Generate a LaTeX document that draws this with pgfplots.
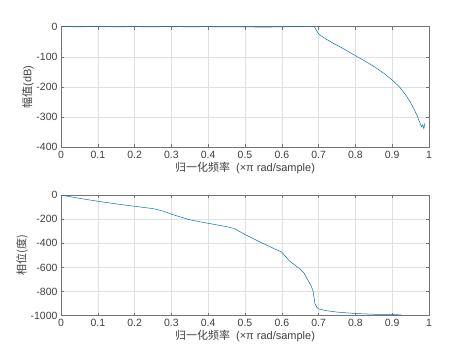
\documentclass[border=0pt]{standalone}
\usepackage{pgfplots}
\pgfplotsset{compat=1.18}
\usepackage{fontspec}
\setmainfont{Liberation Sans}
\newfontfamily\cjk{Noto Sans CJK SC}
\definecolor{mblue}{rgb}{0,0.447,0.741}
\definecolor{axgray}{rgb}{0.45,0.45,0.45}
\definecolor{txtgray}{rgb}{0.25,0.25,0.25}
\pgfplotsset{
  myaxis/.style={
    scale only axis, width=368pt, height=120.6pt,
    xmin=0, xmax=1,
    xtick={0,0.1,...,1.0},
    xticklabels={0,0.1,0.2,0.3,0.4,0.5,0.6,0.7,0.8,0.9,1},
    tick align=inside, tick pos=both,
    major tick length=3pt,
    grid=major,
    major grid style={draw=black!12, line width=0.4pt},
    axis line style={draw=axgray, line width=0.5pt},
    every tick/.style={draw=axgray, line width=0.5pt},
    tick label style={font=\fontsize{10.5}{12}\selectfont, text=txtgray},
    /pgf/number format/assume math mode=true,
    /pgf/number format/1000 sep={},
    label style={font=\fontsize{11}{13}\selectfont, text=txtgray},
    xlabel={{\cjk 归一化频率}\ \ (×π rad/sample)},
    xlabel style={yshift=3pt},
    ylabel style={yshift=-4pt},
  }
}
\begin{document}
\begin{tikzpicture}
\path[use as bounding box] (0,0) rectangle (474pt,355pt);
\begin{axis}[myaxis, at={(61pt,207.7pt)}, anchor=south west,
  ymin=-400, ymax=0, ytick={-400,-300,-200,-100,0},
  ylabel={{\cjk 幅值}(dB)}]
\addplot[mblue, line width=0.5pt] coordinates {
(0,0) (0.05,-0.3) (0.1,0.2) (0.15,-0.4) (0.2,0) (0.25,-0.5) (0.3,0.3) (0.35,-0.5)
(0.4,0) (0.45,-1) (0.5,-0.5) (0.55,-1.5) (0.6,-0.5) (0.63,0.5) (0.66,1.5) (0.68,2)
(0.688,1) (0.692,-8) (0.697,-18) (0.70,-24) (0.71,-33) (0.72,-41) (0.74,-55)
(0.76,-68) (0.78,-82) (0.80,-96) (0.82,-110) (0.84,-124) (0.86,-140) (0.88,-157)
(0.90,-177) (0.92,-200) (0.94,-232) (0.95,-252) (0.96,-275) (0.97,-302)
(0.975,-318) (0.98,-332) (0.983,-325) (0.986,-338) (0.989,-320)
};
\end{axis}
\begin{axis}[myaxis, at={(61pt,39.3pt)}, anchor=south west,
  ymin=-1000, ymax=0, ytick={-1000,-800,-600,-400,-200,0},
  ylabel={{\cjk 相位(度)}}]
\addplot[mblue, line width=0.5pt] coordinates {
(0,0) (0.05,-27) (0.1,-51) (0.15,-73) (0.2,-93) (0.25,-112) (0.28,-135) (0.3,-158) (0.35,-205)
(0.4,-234) (0.45,-262) (0.47,-276) (0.5,-327) (0.55,-403) (0.6,-473) (0.62,-544)
(0.65,-614) (0.66,-645) (0.67,-700) (0.68,-755) (0.685,-797) (0.69,-900)
(0.695,-930) (0.70,-944) (0.72,-958) (0.75,-970) (0.8,-982) (0.85,-988)
(0.9,-991) (0.925,-993)
};
\end{axis}
\end{tikzpicture}
\end{document}
